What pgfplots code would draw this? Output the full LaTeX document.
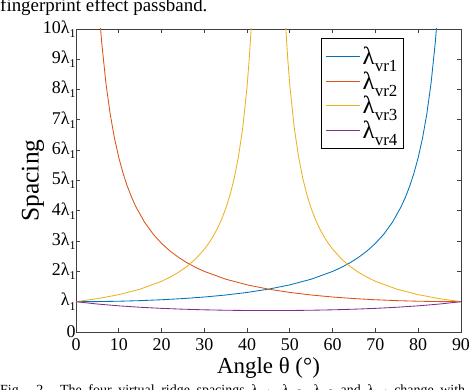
\documentclass[border=0pt]{standalone}
\usepackage{fontspec}
\setmainfont{Liberation Serif}
\usepackage{pgfplots}
\pgfplotsset{compat=1.18}
\definecolor{mblue}{rgb}{0,0.447,0.741}
\definecolor{morange}{rgb}{0.85,0.325,0.098}
\definecolor{myellow}{rgb}{0.929,0.694,0.125}
\definecolor{mpurple}{rgb}{0.494,0.184,0.556}
\definecolor{axgray}{rgb}{0.25,0.25,0.25}
\newcommand\lo[1]{\raisebox{-0.5ex}{\fontsize{12}{12}\selectfont #1}}
\newcommand\lgsub[1]{\raisebox{-0.6ex}{\fontsize{17}{17}\selectfont #1}}
\begin{document}
\begin{tikzpicture}
\clip (-76bp,-58bp) rectangle (398bp,332bp);
\node[anchor=base west,font=\fontsize{19}{19}\selectfont,inner sep=0pt] at (-76bp,320bp) {fingerprint effect passband.};
\node[anchor=base west,font=\fontsize{14}{14}\selectfont,inner sep=0pt] at (-76bp,-62bp) {\makebox[465bp][s]{Fig. 2.\ \ The four virtual ridge spacings λ\textsubscript{vr1}, λ\textsubscript{vr2}, λ\textsubscript{vr3} and λ\textsubscript{vr4} change with}};
\begin{axis}[
  at={(0,0)}, anchor=south west,
  scale only axis, width=385bp, height=303bp,
  xmin=0, xmax=90, ymin=0, ymax=10,
  xtick={0,10,...,90}, ytick={0,1,...,10},
  yticklabels={0,λ\lo{1},2λ\lo{1},3λ\lo{1},4λ\lo{1},5λ\lo{1},6λ\lo{1},7λ\lo{1},8λ\lo{1},9λ\lo{1},10λ\lo{1}},
  /pgf/number format/assume math mode=true,
  tick align=inside, tick pos=both,
  major tick length=4bp,
  axis line style={axgray, line width=0.8pt},
  every tick/.style={axgray, line width=0.8pt},
  ticklabel style={font=\fontsize{18}{18}\selectfont},
  xticklabel style={anchor=base, yshift=-18bp},
  yticklabel style={xshift=3bp},
  xlabel={Angle θ (°)}, ylabel={Spacing},
  xlabel style={font=\fontsize{23}{23}\selectfont, at={(axis description cs:0.5,0)}, anchor=base, yshift=-41bp},
  ylabel style={font=\fontsize{25.5}{25.5}\selectfont, at={(axis description cs:-0.112,0.5)}, anchor=center},
  unbounded coords=jump,
  legend style={at={(0.852,0.97)}, anchor=north east, draw=black, line width=1.3pt,
    font=\fontsize{25}{25}\selectfont, row sep=1.5bp, inner xsep=4bp, inner ysep=6.5bp},
  legend cell align=left,
  legend image code/.code={\draw[#1,line width=1.3pt] (0bp,0bp) -- (34bp,0bp);},
  every axis plot/.append style={line width=0.85pt},
]
\addplot[mblue] coordinates {
(0,1) (5,1.0038) (10,1.0154) (15,1.0353) (20,1.0642) (25,1.1034) (30,1.1547) (35,1.2208)
(40,1.3054) (45,1.4142) (50,1.5557) (55,1.7434) (60,2) (62,2.1301) (64,2.2812) (66,2.4586)
(68,2.6695) (70,2.9238) (72,3.2361) (74,3.6280) (76,4.1336) (77,4.4454) (78,4.8097)
(79,5.2408) (80,5.7588) (81,6.3925) (82,7.1853) (83,8.2055) (84,9.5668) (84.5,10.433) (85,11.474)};
\addlegendentry{λ\lgsub{vr1}}
\addplot[morange] coordinates {
(5,11.474) (5.5,10.433) (6,9.5668) (7,8.2055) (8,7.1853) (9,6.3925) (10,5.7588) (11,5.2408)
(12,4.8097) (13,4.4454) (14,4.1336) (16,3.6280) (18,3.2361) (20,2.9238) (22,2.6695)
(24,2.4586) (26,2.2812) (28,2.1301) (30,2) (35,1.7434) (40,1.5557) (45,1.4142) (50,1.3054)
(55,1.2208) (60,1.1547) (65,1.1034) (70,1.0642) (75,1.0353) (80,1.0154) (85,1.0038) (90,1)};
\addlegendentry{λ\lgsub{vr2}}
\addplot[myellow] coordinates {
(0,1) (5,1.1001) (10,1.2328) (15,1.4142) (20,1.6732) (22,1.8097) (24,1.9731) (26,2.1719)
(28,2.4185) (30,2.7321) (31,2.9229) (32,3.1434) (33,3.4010) (34,3.7058) (35,4.0722)
(36,4.5202) (37,5.0808) (38,5.8022) (39,6.7645) (40,8.1136) (40.5,9.0123) (41,10.137) (41.5,11.582)
(45,nan)
(48.5,11.582) (49,10.137) (49.5,9.0123) (50,8.1136) (51,6.7645) (52,5.8022) (53,5.0808)
(54,4.5202) (55,4.0722) (56,3.7058) (57,3.4010) (58,3.1434) (59,2.9229) (60,2.7321)
(62,2.4185) (64,2.1719) (66,1.9731) (68,1.8097) (70,1.6732) (75,1.4142) (80,1.2328) (85,1.1001) (90,1)};
\addlegendentry{λ\lgsub{vr3}}
\addplot[mpurple] coordinates {
(0,1) (5,0.9231) (10,0.8632) (15,0.8165) (20,0.7802) (25,0.7525) (30,0.7321) (35,0.7180)
(40,0.7098) (45,0.7071) (50,0.7098) (55,0.7180) (60,0.7321) (65,0.7525) (70,0.7802)
(75,0.8165) (80,0.8632) (85,0.9231) (90,1)};
\addlegendentry{λ\lgsub{vr4}}
\end{axis}
\end{tikzpicture}
\end{document}
